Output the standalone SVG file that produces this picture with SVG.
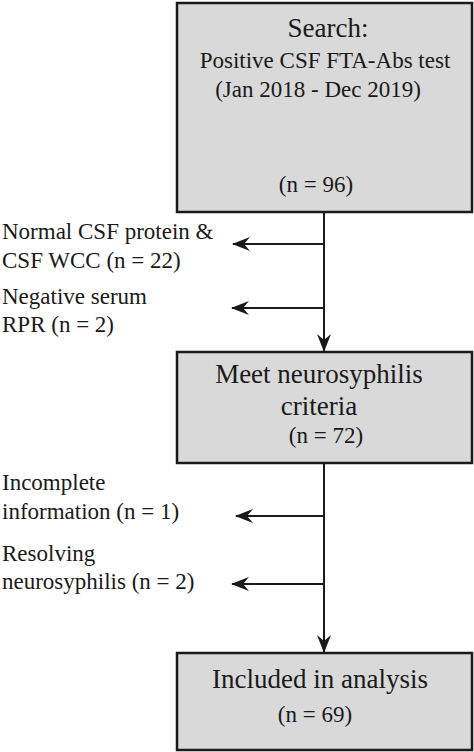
<svg xmlns="http://www.w3.org/2000/svg" width="474" height="752" viewBox="0 0 474 752">
<defs>
<marker id="ah" markerWidth="18" markerHeight="14" refX="17" refY="7" orient="auto" markerUnits="userSpaceOnUse">
<path d="M0,0 L18,7 L0,14 L6,7 Z" fill="#1a1a1a"/>
</marker>
</defs>
<style>
.box{fill:#d9d9d9;stroke:#1a1a1a;stroke-width:2.5}
.t{font-family:"Liberation Serif","Times New Roman",serif;fill:#1a1a1a}
.big{font-size:27px;text-anchor:middle}
.mid{font-size:23px;text-anchor:middle}
.side{font-size:23px}
.ln{stroke:#1a1a1a;stroke-width:2;fill:none}
</style>
<rect width="474" height="752" fill="#ffffff"/>
<g id="connectors">
<line class="ln" x1="324" y1="212" x2="324" y2="351" marker-end="url(#ah)"/>
<line class="ln" x1="324" y1="244" x2="233" y2="244" marker-end="url(#ah)"/>
<line class="ln" x1="324" y1="308" x2="232" y2="308" marker-end="url(#ah)"/>
<line class="ln" x1="324" y1="463" x2="324" y2="652" marker-end="url(#ah)"/>
<line class="ln" x1="324" y1="516" x2="236" y2="516" marker-end="url(#ah)"/>
<line class="ln" x1="324" y1="584" x2="232" y2="584" marker-end="url(#ah)"/>
</g>
<g id="search">
<rect class="box" x="177" y="3" width="295" height="209"/>
<text class="t big" x="328" y="37">Search:</text>
<text class="t mid" x="325" y="68">Positive CSF FTA-Abs test</text>
<text class="t mid" x="318" y="97">(Jan 2018 - Dec 2019)</text>
<text class="t mid" x="316" y="192">(n = 96)</text>
</g>
<g id="excl1">
<text class="t side" x="2" y="239">Normal CSF protein &amp;</text>
<text class="t side" x="2" y="268">CSF WCC (n = 22)</text>
</g>
<g id="excl2">
<text class="t side" x="2" y="304">Negative serum</text>
<text class="t side" x="2" y="332">RPR (n = 2)</text>
</g>
<g id="meet">
<rect class="box" x="177" y="352" width="295" height="111"/>
<text class="t big" x="319" y="383">Meet neurosyphilis</text>
<text class="t big" x="319" y="415">criteria</text>
<text class="t mid" x="326" y="443">(n = 72)</text>
</g>
<g id="excl3">
<text class="t side" x="2" y="490">Incomplete</text>
<text class="t side" x="2" y="519">information (n = 1)</text>
</g>
<g id="excl4">
<text class="t side" x="2" y="561">Resolving</text>
<text class="t side" x="2" y="589">neurosyphilis (n = 2)</text>
</g>
<g id="included">
<rect class="box" x="177" y="653" width="295" height="97"/>
<text class="t big" x="320" y="688">Included in analysis</text>
<text class="t mid" x="315" y="722">(n = 69)</text>
</g>
</svg>
